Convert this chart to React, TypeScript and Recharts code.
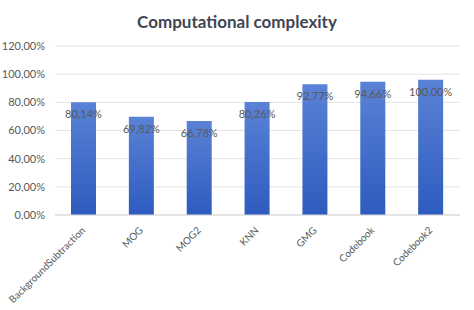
import React from "react";
import { BarChart, Bar, XAxis, YAxis, CartesianGrid, LabelList } from "recharts";

const categories = ["BackgroundSubtraction", "MOG", "MOG2", "KNN", "GMG", "Codebook", "Codebook2"];
const values = [80.14, 69.82, 66.78, 80.26, 92.77, 94.66, 96.0];
const valueLabels = ["80,14%", "69,82%", "66,78%", "80,26%", "92,77%", "94,66%", "100,00%"];
const yTicks = [0, 20, 40, 60, 80, 100, 120];

const data = categories.map((c, i) => ({ name: c, value: values[i], label: valueLabels[i] }));

const FONT = "Lato, 'Open Sans', sans-serif";
const GRAY = "#595959";

const XTick = (props: any) => {
  const { x, y, payload } = props;
  const ax = x + 2;
  const ay = y + 8;
  return (
    <text
      x={ax}
      y={ay}
      textAnchor="end"
      fill={GRAY}
      fontSize={10}
      fontFamily={FONT}
      transform={`rotate(-45, ${ax}, ${ay})`}
    >
      {payload.value}
    </text>
  );
};

const ValueLabel = (props: any) => {
  const { x, y, width, value } = props;
  return (
    <text
      x={x + width / 2}
      y={y + 16}
      textAnchor="middle"
      fill={GRAY}
      fontSize={11}
      fontFamily={FONT}
    >
      {value}
    </text>
  );
};

export default function App() {
  return (
    <div style={{ position: "absolute", left: 0, top: 0, width: 474, height: 310, background: "#fff" }}>
      <div
        style={{
          position: "absolute",
          left: 0,
          top: 11,
          width: 474,
          textAlign: "center",
          fontFamily: FONT,
          fontWeight: 700,
          fontSize: 17,
          color: "#404552",
        }}
      >
        Computational complexity
      </div>
      <BarChart
        width={474}
        height={310}
        data={data}
        margin={{ top: 46, right: 14, bottom: 0, left: 0 }}
        barSize={25}
      >
        <defs>
          <linearGradient id="barGrad" x1="0" y1="0" x2="0" y2="1">
            <stop offset="0%" stopColor="#5a82d6" />
            <stop offset="100%" stopColor="#2e5bbf" />
          </linearGradient>
        </defs>
        <CartesianGrid vertical={false} stroke="#e3e3e3" />
        <XAxis
          dataKey="name"
          interval={0}
          height={95}
          tickLine={false}
          axisLine={{ stroke: "#d9d9d9" }}
          tick={<XTick />}
        />
        <YAxis
          width={55}
          domain={[0, 120]}
          ticks={yTicks}
          interval={0}
          axisLine={false}
          tickLine={false}
          tickMargin={4}
          tick={{ fill: GRAY, fontSize: 11, fontFamily: FONT }}
          tickFormatter={(v: number) => `${v},00%`}
        />
        <Bar dataKey="value" fill="url(#barGrad)" isAnimationActive={false}>
          <LabelList dataKey="label" content={<ValueLabel />} />
        </Bar>
      </BarChart>
    </div>
  );
}
